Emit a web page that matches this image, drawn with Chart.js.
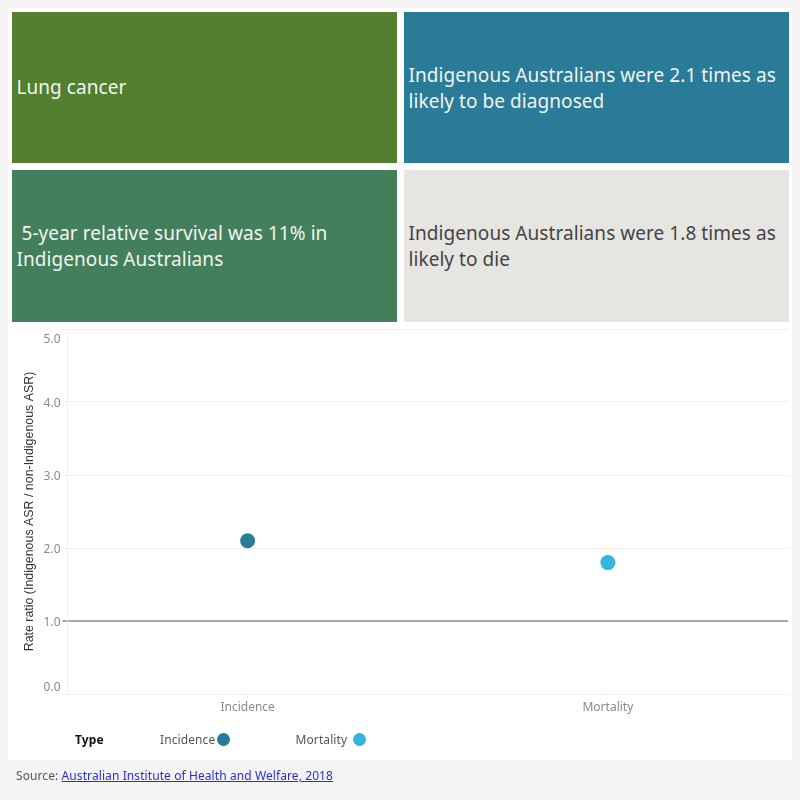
<!DOCTYPE html>
<html>
<head>
<meta charset="utf-8">
<title>Lung cancer rate ratio</title>
<script src="https://cdn.jsdelivr.net/npm/chart.js@4"></script>
<style>
  html, body { margin: 0; padding: 0; width: 800px; height: 800px; overflow: hidden; background: #f4f4f4; font-family: "Noto Sans", sans-serif; }
  #panel { position: absolute; left: 8px; top: 8px; width: 784px; height: 752px; background: #fff; }
  .tile { position: absolute; width: 385px; display: flex; align-items: center; box-sizing: border-box; padding: 0 8px 0 4.5px; font-size: 19px; line-height: 26px; letter-spacing: 0.06px; color: #f1f4f2; }
  #wrap { position: absolute; left: 8px; top: 322px; width: 784px; height: 438px; }
  #legend { position: absolute; left: 0; top: 733px; font-size: 12px; line-height: 14px; letter-spacing: 0.1px; color: #555; }
  #legend span { position: absolute; white-space: nowrap; }
  #legend b { position: absolute; left: 75px; color: #111; }
  #legend i { position: absolute; width: 13px; height: 13px; border-radius: 50%; }
  #source { position: absolute; left: 16px; top: 768px; font-size: 12px; line-height: 16px; letter-spacing: 0.09px; color: #555; }
  #source a { color: #2a2ae6; }
</style>
</head>
<body>
<div id="panel"></div>
<div class="tile" style="left:12px;top:12px;height:151px;padding-bottom:2px;background:#53802f">Lung cancer</div>
<div class="tile" style="left:404px;top:12px;height:151px;background:#2a7b97">Indigenous Australians were 2.1 times as likely to be diagnosed</div>
<div class="tile" style="left:12px;top:170px;height:152px;background:#437f5a"><div>&nbsp;5-year relative survival was 11% in Indigenous Australians</div></div>
<div class="tile" style="left:404px;top:170px;height:152px;background:#e6e5e1;color:#444">Indigenous Australians were 1.8 times as likely to die</div>
<div id="wrap"><canvas id="rateChart" width="784" height="438"></canvas></div>
<div id="legend"></div>
<div id="source">Source: <a href="#">Australian Institute of Health and Welfare, 2018</a></div>

<script>
const categories = ['Incidence', 'Mortality'];
const rateRatios = [2.1, 1.8];
const seriesColors = ['#2a7b97', '#33b5de'];
const yTickLabels = ['0.0', '1.0', '2.0', '3.0', '4.0', '5.0'];
const yAxisTitle = 'Rate ratio (Indigenous ASR / non-Indigenous ASR)';
const parityValue = 1;

// Tableau pushes the first and last axis labels inside the plot
const innerLabels = {
  id: 'innerLabels',
  beforeDraw(chart) {
    const items = chart.scales.y.getLabelItems();
    items.forEach(item => { item.options.translation[1] += 2; });
    items[0].options.translation[1] -= 8;
    items[items.length - 1].options.translation[1] += 9;
  }
};

new Chart(document.getElementById('rateChart'), {
  type: 'line',
  data: {
    labels: categories,
    datasets: categories.map((name, i) => ({
      label: name,
      data: categories.map((c, j) => (j === i ? rateRatios[i] : null)),
      showLine: false,
      pointRadius: 7.5,
      pointHoverRadius: 7.5,
      pointBorderWidth: 0,
      pointBackgroundColor: seriesColors[i],
      borderColor: seriesColors[i]
    }))
  },
  options: {
    responsive: false,
    animation: false,
    layout: { autoPadding: false, padding: { top: 7, right: 4 } },
    plugins: { legend: { display: false }, tooltip: { enabled: false } },
    scales: {
      x: {
        offset: true,
        afterFit: s => { s.height = 66; s.paddingLeft = 0; s.paddingRight = 0; },
        border: { color: '#f0f0f0' },
        grid: { drawOnChartArea: false, tickLength: 4, color: '#f0f0f0' },
        ticks: { color: '#8a8a8a', padding: 2, font: { family: 'Noto Sans', size: 12 } }
      },
      y: {
        min: 0,
        max: 5,
        afterFit: s => { s.width = 59.5; s.paddingTop = 0; s.paddingBottom = 0; },
        border: { color: '#f0f0f0' },
        title: { display: true, text: yAxisTitle, color: '#333', padding: { top: 14, bottom: 0 }, font: { family: 'Liberation Sans', size: 12.4 } },
        grid: {
          tickLength: 5,
          color: c => (c.tick && c.tick.value === parityValue ? '#a9a9a9' : '#f0f0f0'),
          lineWidth: c => (c.tick && c.tick.value === parityValue ? 2 : 1)
        },
        ticks: {
          stepSize: 1,
          color: '#8a8a8a',
          padding: 2,
          font: { family: 'Noto Sans', size: 12 },
          callback: (v, i) => yTickLabels[i]
        }
      }
    }
  },
  plugins: [innerLabels]
});

const legend = document.getElementById('legend');
legend.innerHTML = '<b>Type</b>';
categories.forEach((name, i) => {
  const x = 160 + i * 135.5;
  legend.innerHTML += `<span style="left:${x}px">${name}</span>` +
    `<i style="left:${x + 57}px;top:0;background:${seriesColors[i]}"></i>`;
});
</script>
</body>
</html>
